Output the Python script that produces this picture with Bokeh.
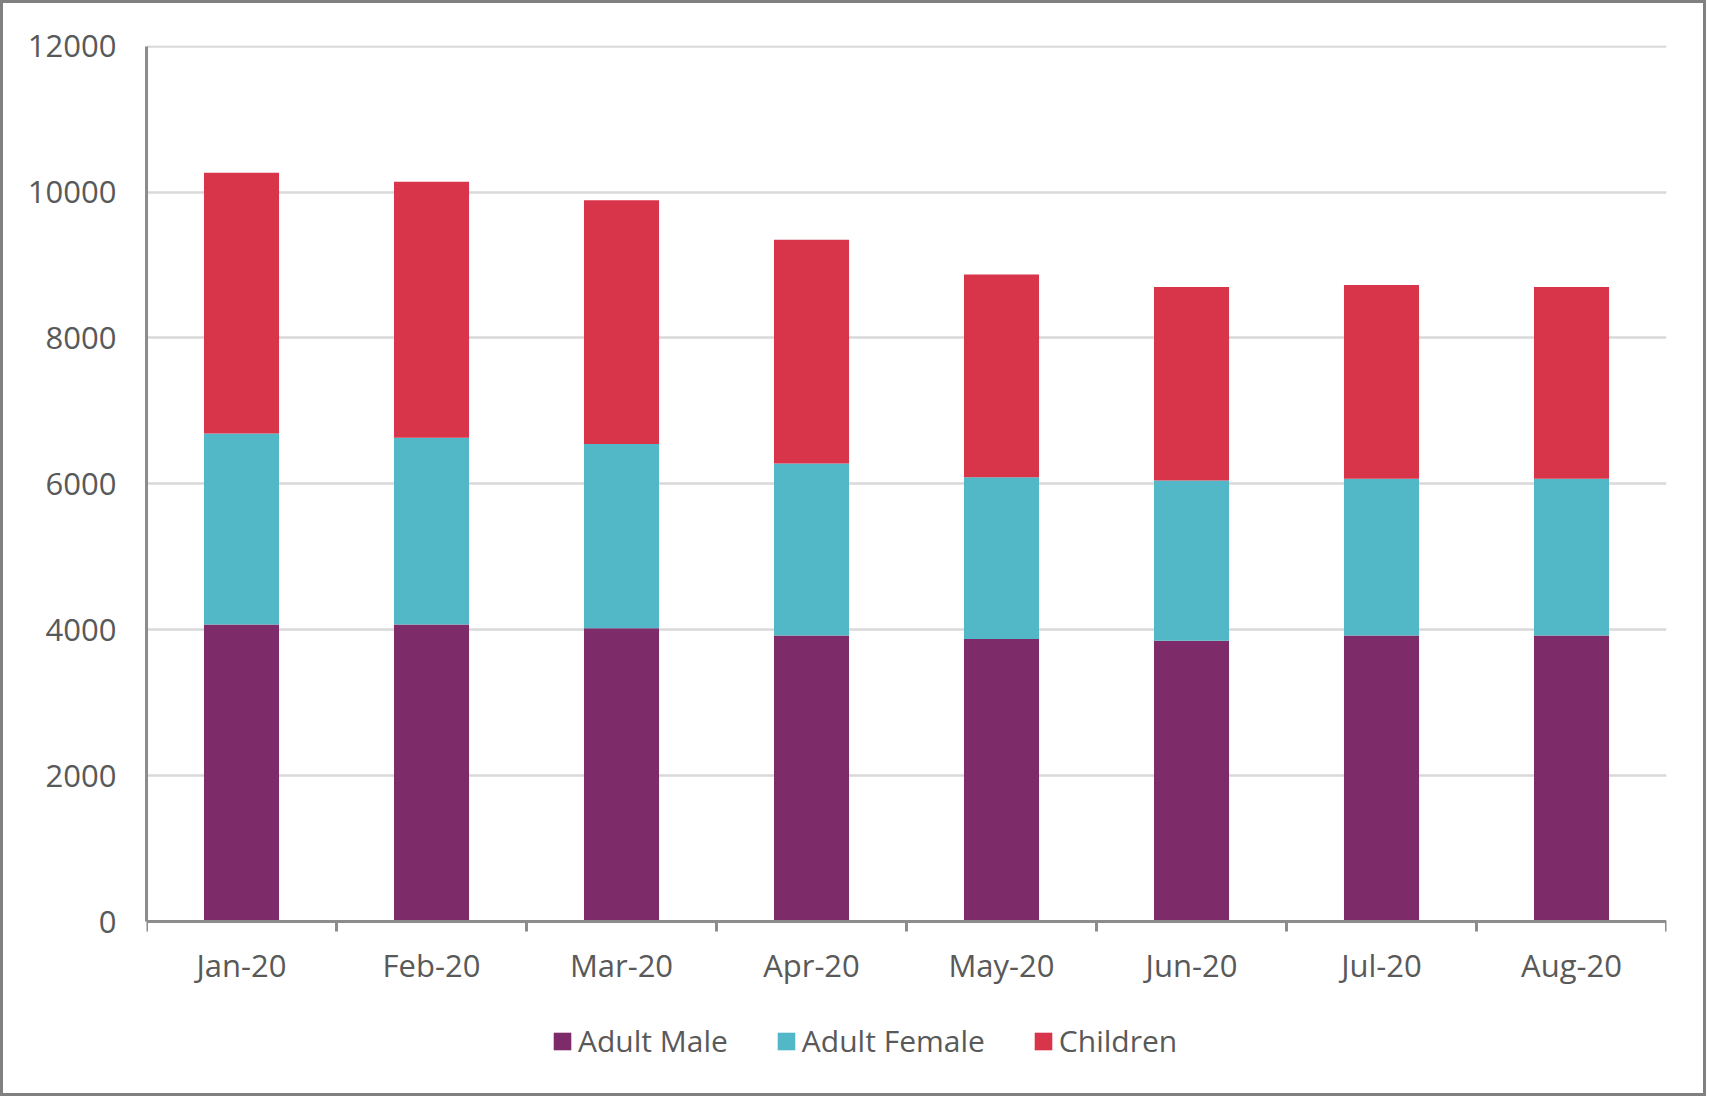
from bokeh.plotting import figure
from bokeh.models import Range1d, FixedTicker, Legend, LegendItem, ColumnDataSource, LinearAxis, Grid
from bokeh.embed import file_html
from bokeh.resources import INLINE

# ---- data ----
months = ["Jan-20", "Feb-20", "Mar-20", "Apr-20", "May-20", "Jun-20", "Jul-20", "Aug-20"]
adult_male = [4073, 4073, 4022, 3922, 3872, 3849, 3922, 3922]
adult_female = [2618, 2558, 2526, 2358, 2220, 2198, 2147, 2147]
children = [3574, 3510, 3342, 3068, 2780, 2652, 2658, 2630]
series_names = ["Adult Male", "Adult Female", "Children"]
y_ticks = [0, 2000, 4000, 6000, 8000, 10000, 12000]

# ---- styles ----
colors = ["#7e2b6a", "#52b7c6", "#d8354a"]
FONT = "Open Sans"
TXT = "#595959"
AXC = "#8c8c8c"

idx = list(range(len(months)))
src = ColumnDataSource(dict(x=idx, male=adult_male, female=adult_female, children=children))

W, H = 1706, 1096
Y_TOP, Y_BOTTOM = 12010, -2303   # frame extends below zero to host axis labels + legend
p = figure(width=W, height=H, output_backend="svg", toolbar_location=None,
           x_range=Range1d(-0.5, len(months) - 0.5), y_range=Range1d(Y_BOTTOM, Y_TOP),
           x_axis_location=None, y_axis_location=None,
           min_border_left=143, min_border_right=43, min_border_top=42, min_border_bottom=10,
           styles={"border": "3px solid #808080"})
p.outline_line_color = None
p.background_fill_color = "white"
p.border_fill_color = "white"

rs = p.vbar_stack(["male", "female", "children"], x="x", width=0.395, color=colors,
                  line_color=None, source=src)

# y axis (line only from 0 to top)
yax = LinearAxis(ticker=FixedTicker(ticks=y_ticks), bounds=(0, 12000))
yax.major_tick_out = 0
yax.major_tick_in = 0
yax.minor_tick_out = 0
yax.minor_tick_in = 0
yax.axis_line_color = AXC
yax.axis_line_width = 3
yax.major_label_text_font = FONT
yax.major_label_text_font_size = "31px"
yax.major_label_text_color = TXT
yax.major_label_standoff = 30
p.add_layout(yax, "left")

# x axis at y=0: labels at centres, ticks at category boundaries
bounds = [i - 0.5 for i in range(len(months) + 1)]
xax = LinearAxis(ticker=FixedTicker(ticks=idx, minor_ticks=bounds), fixed_location=0)
xax.major_label_overrides = {i: m for i, m in zip(idx, months)}
xax.major_tick_out = 0
xax.major_tick_in = 0
xax.minor_tick_out = 10
xax.minor_tick_in = 0
xax.minor_tick_line_color = AXC
xax.minor_tick_line_width = 3
xax.axis_line_color = AXC
xax.axis_line_width = 3
xax.major_label_text_font = FONT
xax.major_label_text_font_size = "31px"
xax.major_label_text_color = TXT
xax.major_label_standoff = 12
p.add_layout(xax, "below")

p.ygrid.grid_line_color = None
p.xgrid.grid_line_color = None
grid = Grid(dimension=1, ticker=FixedTicker(ticks=y_ticks[1:]), grid_line_color="#d9d9d9",
            grid_line_width=2.5)
p.add_layout(grid)

legend = Legend(items=[LegendItem(label=n, renderers=[r]) for n, r in zip(series_names, rs)],
                orientation="horizontal", location=(405, 28))
legend.border_line_color = None
legend.background_fill_alpha = 0
legend.glyph_width = 22
legend.glyph_height = 22
legend.label_standoff = 5
legend.spacing = 47
legend.padding = 0
legend.margin = 0
legend.label_text_font = FONT
legend.label_text_font_size = "30px"
legend.label_text_color = TXT
p.add_layout(legend, "center")

open("out.html", "w").write(file_html(p, INLINE))
